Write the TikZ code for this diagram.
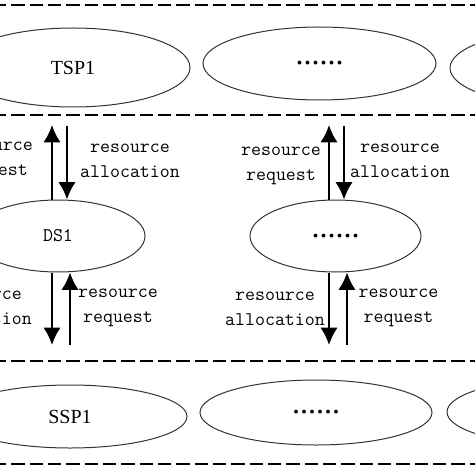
\documentclass[tikz,border=0pt]{standalone}
\usepackage{fontspec}
\setmainfont{Liberation Serif}
\usetikzlibrary{shapes.geometric,arrows.meta}
\tikzset{every picture/.style={line width=0.75pt}}
\tikzset{
  layer/.style={line width=2pt, dash pattern=on 10pt off 3.75pt, dash phase=4pt},
  party/.style={draw=black!80, ellipse, inner sep=0pt, font=\fontsize{15}{17}\selectfont},
  dots/.style={font=\fontsize{24}{24}\selectfont},
  lbl/.style={font=\ttfamily\fontsize{14.5}{18.75}\selectfont, align=center, inner sep=0.75pt},
  flow/.style={line width=1.6pt, -{Latex[length=13pt,width=13pt]}}
}

\begin{document}
\begin{tikzpicture}[x=0.75pt,y=0.75pt,yscale=-1,xscale=1]
    \useasboundingbox (0,0) rectangle (474,474);
    %Layer borders
    \draw [layer] (-20,5) -- (494,5);
    \draw [layer] (-20,115) -- (494,115);
    \draw [layer] (-20,361) -- (494,361);
    \draw [layer] (-20,464) -- (494,464);
    %Shape: Ellipse [top layer]
    \node [party, minimum width=175.5pt, minimum height=59.25pt] (tsp1) at (73,67.5) {TSP1};
    \node [party, dots, minimum width=174.75pt, minimum height=54.75pt] (tspn) at (319.5,63.5) {......};
    \node [party, minimum width=175.5pt, minimum height=57pt] (tspr) at (567,68) {};
    %Shape: Ellipse [middle layer]
    \node [party, lbl, minimum width=130.5pt, minimum height=54pt] (ds1) at (58,236) {DS1};
    \node [party, dots, minimum width=128.25pt, minimum height=54pt] (dsn) at (335.5,236) {......};
    %Shape: Ellipse [bottom layer]
    \node [party, minimum width=175.5pt, minimum height=47.25pt] (ssp1) at (70,416.5) {SSP1};
    \node [party, dots, minimum width=174pt, minimum height=48.75pt] (sspn) at (316,412.5) {......};
    \node [party, minimum width=175.5pt, minimum height=49.5pt] (sspr) at (564,412) {};
    %Free ends of the arrows
    \coordinate (up1) at (52,125);
    \coordinate (dn1) at (67,126);
    \coordinate (up2) at (329,125);
    \coordinate (dn2) at (344,126);
    \coordinate (dn3) at (52,345);
    \coordinate (up3) at (70,345);
    \coordinate (dn4) at (329,345);
    \coordinate (up4) at (347,345);
    %Arrows
    \draw [flow] (ds1.north -| up1) -- (up1);
    \draw [flow] (dn1) -- (ds1.north -| dn1);
    \draw [flow] (dsn.north -| up2) -- (up2);
    \draw [flow] (dn2) -- (dsn.north -| dn2);
    \draw [flow] (ds1.south -| dn3) -- (dn3);
    \draw [flow] (up3) -- (ds1.south -| up3);
    \draw [flow] (dsn.south -| dn4) -- (dn4);
    \draw [flow] (up4) -- (dsn.south -| up4);
    % Text Node
    \node [lbl] (req1) at (-7,160.5) {resource\\request};
    % Text Node
    \node [lbl] (alc1) at (130,160.5) {resource\\allocation};
    % Text Node
    \node [lbl] (req2) at (281,165.5) {resource\\request};
    % Text Node
    \node [lbl] (alc2) at (400,161) {resource\\allocation};
    % Text Node
    \node [lbl] (alc3) at (-18,308) {resource\\allocation};
    % Text Node
    \node [lbl] (req3) at (118,308) {resource\\request};
    % Text Node
    \node [lbl] (alc4) at (275,309) {resource\\allocation};
    % Text Node
    \node [lbl] (req4) at (398.5,308) {resource\\request};
\end{tikzpicture}
\end{document}
